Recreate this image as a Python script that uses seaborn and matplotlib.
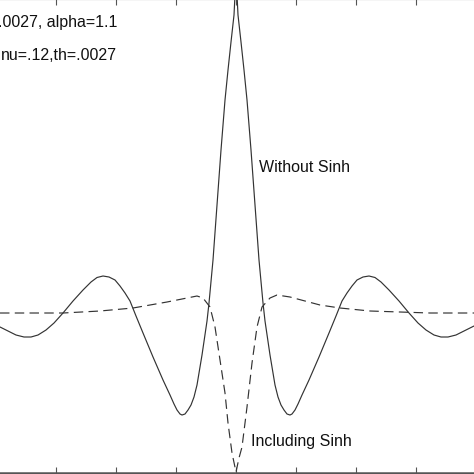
import numpy as np
import pandas as pd
import matplotlib
matplotlib.use("Agg")
import matplotlib.pyplot as plt
import seaborn as sns

# Response curves (x: offset from the centre, y: offset from the baseline)
x_solid = [-236, -228, -220, -212, -205, -198, -190, -182, -173, -163, -153, -145, -139,
           -133, -127, -121, -116, -111, -106, -100, -93, -83, -73, -66, -62, -59, -56,
           -54, -51, -48, -45, -42, -39, -34, -29, -27, -23, -19, -15, -11, -8, -5, -2, 0,
           2, 5, 8, 11, 15, 19, 23, 27, 29, 34, 39, 42, 45, 48, 51, 54, 56, 59, 62, 66,
           73, 83, 93, 100, 106, 111, 116, 121, 127, 133, 139, 145, 153, 163, 173, 182,
           190, 198, 205, 212, 220, 228, 238]
y_solid = [-14, -18, -22, -24, -24, -22, -17, -10, 0, 12, 23, 31, 35.5,
           37, 36, 33, 27, 20, 12, -3, -20, -44, -67, -82, -91, -97, -101,
           -102, -101, -97, -92, -84, -72, -42, -8, 10, 53, 108, 163, 213, 243, 271, 298, 338,
           298, 271, 243, 213, 163, 108, 53, 10, -8, -42, -72, -84, -92, -97, -101, -102, -101, -97, -91, -82,
           -67, -44, -20, -3, 12, 20, 27, 33, 36, 37, 35.5, 31, 23, 12, 0, -10,
           -17, -22, -24, -24, -22, -18, -13]

x_dashed = [-236, -196, -173, -136, -103, -69, -39, -33, -26, -21, -16, -11, -8, -4, 0,
            3, 6, 11, 16, 21, 26, 34, 41, 54, 84, 104, 134, 164, 194, 238]
y_dashed = [0, 0, 0, 2, 5, 11, 17, 15, 6, -14, -47, -80, -110, -140, -159,
            -145, -134, -94, -50, -14, 6, 15, 18, 16, 8, 5, 2, 1, 0, 0]

x_ticks = [-180, -120, -60, 0, 60, 120, 180]

sns.set_style("white")
plt.rcParams["font.family"] = ["Liberation Sans", "DejaVu Sans"]

fig = plt.figure(figsize=(4.74, 4.74), dpi=100)
ax = fig.add_axes([-0.0717, 0.0021, 1.1392, 1.0])

line_col = "#333333"
sns.lineplot(x=x_solid, y=y_solid, ax=ax, color=line_col, linewidth=0.85)
sns.lineplot(x=x_dashed, y=y_dashed, ax=ax, color=line_col, linewidth=0.85,
             linestyle=(0, (8, 4.5)))

ax.set_xlim(-270, 270)
ax.set_ylim(-160, 314)
ax.set_xticks(x_ticks)
ax.set_xticklabels([])
ax.set_yticks([])
ax.tick_params(axis="x", direction="in", top=True, bottom=True, length=4.3,
               width=0.8, color="#555555")

for side in ["top", "left", "right"]:
    ax.spines[side].set_color("#555555")
    ax.spines[side].set_linewidth(0.8)
ax.spines["bottom"].set_color("#555555")
ax.spines["bottom"].set_linewidth(1.8)

# annotations
txt = dict(fontsize=11.5, color="#111111", va="baseline")
ax.text(-119, 286, ".0027, alpha=1.1", ha="right", **txt)
ax.text(-119, 253, "nu=.12,th=.0027", ha="right", **txt)
ax.text(23, 141, "Without Sinh", ha="left", **txt)
ax.text(14.5, -133, "Including Sinh", ha="left", **txt)

plt.savefig("out.png", dpi=100)
